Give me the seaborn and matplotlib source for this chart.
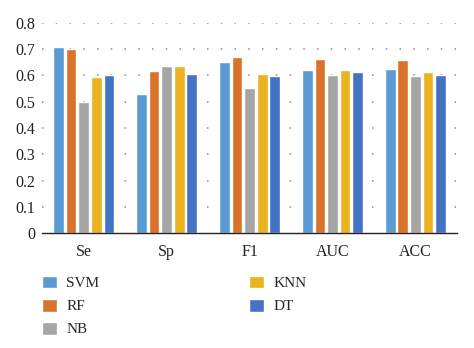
import matplotlib
matplotlib.use("Agg")
import matplotlib.pyplot as plt
import seaborn as sns
import pandas as pd

metrics = ["Se", "Sp", "F1", "AUC", "ACC"]
models = ["SVM", "RF", "NB", "KNN", "DT"]
svm = [0.708, 0.528, 0.650, 0.620, 0.622]
rf = [0.698, 0.617, 0.670, 0.662, 0.659]
nb = [0.499, 0.636, 0.550, 0.601, 0.596]
knn = [0.594, 0.635, 0.603, 0.620, 0.612]
dt = [0.601, 0.603, 0.596, 0.612, 0.600]
colors = ["#5B9BD5", "#D9732B", "#A5A5A5", "#EBB31F", "#4472C4"]

rows = []
for name, vals in zip(models, [svm, rf, nb, knn, dt]):
    for m, v in zip(metrics, vals):
        rows.append({"metric": m, "model": name, "value": v})
df = pd.DataFrame(rows)

sns.set_theme(style="white")
plt.rcParams["font.family"] = ["Liberation Serif", "DejaVu Serif"]

fig = plt.figure(figsize=(4.74, 3.48), dpi=100)
ax = fig.add_axes([0.089, 0.330, 0.875, 0.605])
sns.barplot(data=df, x="metric", y="value", hue="model", order=metrics,
            hue_order=models, palette=colors, width=0.76, gap=0.15,
            saturation=1, ax=ax, legend=True)

ax.set_ylim(0, 0.8)
ax.set_yticks([i / 10 for i in range(9)])
ax.set_yticklabels(["0"] + [f"{i/10:.1f}" for i in range(1, 9)])
ax.set_xlabel("")
ax.set_ylabel("")
for y in [i / 10 for i in range(1, 9)]:
    ax.axhline(y, color="#8a8a8a", linestyle=(0, (1, 8)), linewidth=1.1, zorder=0)
for s in ["top", "right", "left"]:
    ax.spines[s].set_visible(False)
ax.spines["bottom"].set_color("#222222")
ax.spines["bottom"].set_linewidth(1.0)
ax.tick_params(axis="y", length=0, labelsize=11.5, colors="#222222", pad=5)
ax.tick_params(axis="x", length=0, labelsize=11.5, colors="#222222", pad=8)
ax.set_xlim(-0.5, 4.5)

handles, labels = ax.get_legend_handles_labels()
ax.get_legend().remove()
fig.legend(handles, labels, loc="upper left", bbox_to_anchor=(0.075, 0.225),
           ncol=2, frameon=False, fontsize=11, handlelength=1.0,
           handleheight=0.9, columnspacing=9.8, labelspacing=0.55,
           handletextpad=0.6, borderaxespad=0)

fig.savefig("out.png", dpi=100)
